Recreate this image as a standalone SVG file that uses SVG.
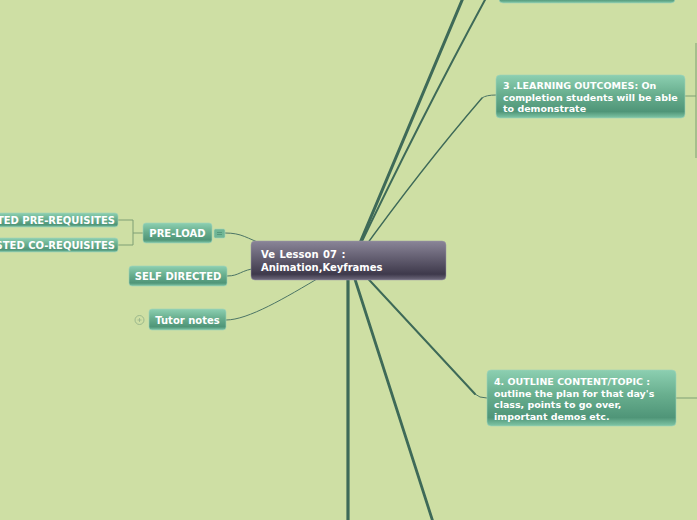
<svg xmlns="http://www.w3.org/2000/svg" width="697" height="520" viewBox="0 0 697 520">
<defs>
<linearGradient id="gGreen" x1="0" y1="0" x2="0" y2="1">
<stop offset="0" stop-color="#8ccfb1"/>
<stop offset="0.45" stop-color="#68ae8e"/>
<stop offset="0.85" stop-color="#4f9578"/>
<stop offset="1" stop-color="#80c6a6"/>
</linearGradient>
<linearGradient id="gCenter" x1="0" y1="0" x2="0" y2="1">
<stop offset="0" stop-color="#8a8598"/>
<stop offset="0.85" stop-color="#3e394b"/>
<stop offset="1" stop-color="#6f6a7d"/>
</linearGradient>
<style>
.node{fill:url(#gGreen);stroke:#9fd3bb;stroke-width:0.6}
.txt{font-family:"DejaVu Sans",Verdana,sans-serif;font-weight:bold;fill:#ffffff;font-size:10px}
.ml{font-size:9.5px}
.main{fill:none;stroke:#3e6a58;stroke-linecap:round}
.sub{fill:none;stroke:#4c7565;stroke-width:1}
.brk{fill:none;stroke:#7f9f75;stroke-width:1}
</style>
</defs>
<rect width="697" height="520" fill="#cedfa4"/>
<g id="connectors">
<path class="main" d="M352,262 L463,-2" stroke-width="3"/>
<path class="main" d="M352,262 Q420,120 486,-2" stroke-width="2"/>
<path class="main" d="M354,262 Q420,170 482,98" stroke-width="1.4"/>
<path class="sub" d="M482,98 Q486,95 496,95"/>
<path class="main" d="M348,270 L348,522" stroke-width="3.2"/>
<path class="main" d="M352,270 L433,522" stroke-width="2.8"/>
<path class="main" d="M360,270 L475,394" stroke-width="2"/>
<path class="sub" d="M475,394 Q479,398 487,398"/>
<path class="sub" d="M225,233 C242,233 246,238 265,245"/>
<path class="sub" d="M227,276 C240,276 240,270 258,268"/>
<path class="sub" d="M226,320 C248,320 285,298 322,276"/>
<path class="brk" d="M118,220 L133,220 L133,245 L118,245 M133,233 L143,233"/>
<path class="brk" d="M685,96 L696,96 M696,43 L696,158"/>
<path class="brk" d="M676,398 L697,398"/>
</g>
<g id="node-top">
<rect class="node" x="499" y="-20" width="176" height="23" rx="4"/>
</g>
<g id="node-learning">
<rect class="node" x="496" y="75" width="189" height="43" rx="4"/>
<text class="txt ml" x="503" y="89">3 .LEARNING OUTCOMES: On</text>
<text class="txt ml" x="503" y="100.5">completion students will be able</text>
<text class="txt ml" x="503" y="112">to demonstrate</text>
</g>
<g id="node-outline">
<rect class="node" x="487" y="370" width="189" height="56" rx="4"/>
<text class="txt ml" x="494" y="385">4. OUTLINE CONTENT/TOPIC :</text>
<text class="txt ml" x="494" y="396.5">outline the plan for that day's</text>
<text class="txt ml" x="494" y="408">class, points to go over,</text>
<text class="txt ml" x="494" y="419.5">important demos etc.</text>
</g>
<g id="node-prereq">
<rect class="node" x="-6" y="213" width="124" height="14" rx="3"/>
<text class="txt" x="115" y="224" text-anchor="end" font-size="9.6">TED PRE-REQUISITES</text>
</g>
<g id="node-coreq">
<rect class="node" x="-6" y="238" width="124" height="14" rx="3"/>
<text class="txt" x="115" y="249" text-anchor="end" font-size="9.6">STED CO-REQUISITES</text>
</g>
<g id="node-preload">
<rect class="node" x="143" y="223" width="69" height="20" rx="3"/>
<text class="txt" x="177.5" y="237" text-anchor="middle">PRE-LOAD</text>
<rect x="214" y="229" width="11" height="9" rx="1.5" fill="#6fb595" stroke="#a6d6bf" stroke-width="0.6"/>
<path d="M217,232.5 H222 M217,234.5 H222" stroke="#4f9076" stroke-width="0.8"/>
</g>
<g id="node-selfdirected">
<rect class="node" x="129" y="266" width="98" height="20" rx="3"/>
<text class="txt" x="178" y="280" text-anchor="middle">SELF DIRECTED</text>
</g>
<g id="node-tutor">
<rect class="node" x="149" y="309" width="77" height="21" rx="3"/>
<text class="txt" x="187.5" y="324" text-anchor="middle">Tutor notes</text>
<circle cx="139.5" cy="320" r="4.5" fill="#cedfa4" stroke="#8fae86" stroke-width="0.8"/>
<path d="M137.5,320 H141.5 M139.5,318 V322" stroke="#8fae86" stroke-width="0.7"/>
</g>
<g id="node-center">
<rect x="251" y="241" width="195" height="39" rx="4" fill="url(#gCenter)" stroke="#9894a4" stroke-width="0.5"/>
<text class="txt" x="261" y="258" font-size="10.7" word-spacing="1">Ve Lesson 07 :</text>
<text class="txt" x="261" y="271" font-size="10.7">Animation,Keyframes</text>
</g>
</svg>
